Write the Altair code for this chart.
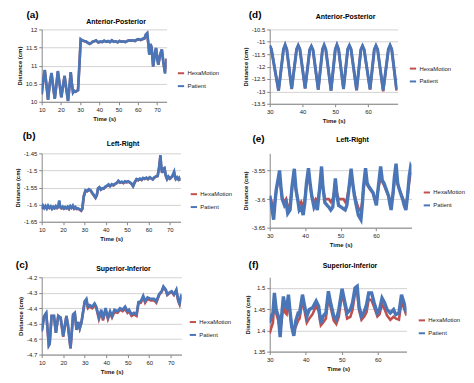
import altair as alt
import pandas as pd

RED = "#c0504d"
BLUE = "#4a76b8"
FONT = "Liberation Sans"

# ---------------- (a) Anterior-Posterior, patient 1 ----------------
a_time = [10.0, 10.8, 11.6, 12.5, 13.3, 14.2, 15.1, 16.0, 16.8, 17.6,
          18.4, 19.3, 20.2, 21.0, 21.9, 22.8, 23.7, 24.4, 25.1, 25.7,
          26.3, 27.0, 27.7, 28.3, 28.9, 29.6, 30.3, 31.0, 32.0, 33.0,
          34.0, 35.0, 35.6, 36.5, 37.5, 38.3, 39.5, 40.5, 41.5, 42.5,
          43.5, 44.5, 45.5, 46.5, 47.5, 48.5, 49.5, 50.5, 51.5, 52.5,
          53.5, 54.5, 55.5, 56.5, 57.5, 58.5, 59.5, 60.5, 61.5, 62.5,
          63.5, 64.2, 64.9, 65.5, 66.0, 66.6, 67.2, 68.0, 68.8, 69.5,
          70.1, 70.7, 71.6, 72.5, 73.3, 74.2, 75.0]
a_patient = [10.22, 10.60, 10.88, 10.45, 10.05, 10.50, 10.80, 10.40, 10.08, 10.45,
             10.85, 10.50, 10.12, 10.40, 10.72, 10.35, 10.02, 10.40, 10.82, 10.50,
             10.25, 10.30, 10.28, 10.30, 10.32, 11.00, 11.73, 11.70, 11.68, 11.67,
             11.63, 11.60, 11.62, 11.66, 11.68, 11.70, 11.64, 11.67, 11.65, 11.69,
             11.66, 11.68, 11.65, 11.70, 11.66, 11.67, 11.64, 11.68, 11.66, 11.67,
             11.65, 11.68, 11.70, 11.69, 11.70, 11.68, 11.72, 11.73, 11.71, 11.74,
             11.76, 11.86, 11.90, 11.60, 11.30, 11.60, 11.50, 10.97, 11.30, 11.49,
             11.20, 11.02, 11.30, 11.45, 11.10, 10.78, 11.20]
a_hexa = [10.20, 10.60, 10.87, 10.45, 10.06, 10.50, 10.79, 10.40, 10.09, 10.45,
          10.84, 10.50, 10.13, 10.40, 10.71, 10.35, 10.03, 10.40, 10.81, 10.50,
          10.26, 10.30, 10.28, 10.30, 10.32, 11.00, 11.72, 11.70, 11.68, 11.66,
          11.63, 11.61, 11.62, 11.66, 11.67, 11.69, 11.64, 11.66, 11.65, 11.68,
          11.66, 11.67, 11.65, 11.69, 11.66, 11.67, 11.65, 11.68, 11.66, 11.67,
          11.65, 11.68, 11.69, 11.69, 11.70, 11.68, 11.71, 11.72, 11.71, 11.73,
          11.75, 11.85, 11.88, 11.60, 11.31, 11.59, 11.50, 10.98, 11.30, 11.48,
          11.20, 11.03, 11.30, 11.44, 11.10, 10.80, 11.18]

# ---------------- (b) Left-Right, patient 1 ----------------
b_time = [10.0, 10.6, 11.2, 11.8, 12.4, 13.0, 13.6, 14.2, 14.8, 15.4,
          16.0, 16.6, 17.2, 17.8, 18.2, 18.6, 19.2, 19.8, 20.4, 21.0,
          21.6, 22.2, 22.8, 23.4, 24.0, 24.6, 25.2, 25.8, 26.4, 27.0,
          27.6, 28.5, 29.0, 29.7, 30.5, 31.3, 32.1, 32.9, 33.6, 34.4,
          35.2, 35.8, 36.4, 37.0, 37.7, 38.4, 39.0, 39.7, 40.5, 41.3,
          42.0, 42.8, 43.6, 44.4, 45.2, 45.9, 46.7, 47.5, 48.3, 49.0,
          49.8, 50.5, 51.3, 52.0, 52.8, 53.5, 54.4, 55.2, 56.0, 56.8,
          57.5, 58.2, 59.0, 59.8, 60.6, 61.4, 62.0, 62.8, 63.6, 64.3,
          65.0, 65.6, 66.0, 66.4, 67.0, 67.5, 68.1, 68.7, 69.3, 70.0,
          70.5, 71.2, 72.0, 72.4, 72.8, 73.4, 74.0, 74.4, 75.0]
b_patient = [-1.612, -1.603, -1.610, -1.604, -1.611, -1.603, -1.609, -1.605, -1.612, -1.606,
             -1.610, -1.604, -1.609, -1.605, -1.588, -1.606, -1.610, -1.606, -1.611, -1.607,
             -1.610, -1.606, -1.612, -1.604, -1.609, -1.603, -1.611, -1.607, -1.612, -1.611,
             -1.613, -1.617, -1.612, -1.575, -1.558, -1.560, -1.555, -1.558, -1.565, -1.572,
             -1.580, -1.572, -1.552, -1.549, -1.556, -1.552, -1.553, -1.548, -1.545, -1.541,
             -1.546, -1.540, -1.543, -1.539, -1.536, -1.530, -1.535, -1.533, -1.536, -1.532,
             -1.534, -1.532, -1.535, -1.538, -1.546, -1.535, -1.525, -1.528, -1.524, -1.527,
             -1.522, -1.524, -1.521, -1.525, -1.520, -1.523, -1.526, -1.520, -1.517, -1.516,
             -1.490, -1.455, -1.490, -1.507, -1.495, -1.493, -1.515, -1.525, -1.518, -1.524,
             -1.521, -1.516, -1.504, -1.518, -1.525, -1.520, -1.526, -1.522, -1.530]
b_hexa = [-1.613, -1.606, -1.610, -1.607, -1.611, -1.606, -1.610, -1.607, -1.612, -1.608,
          -1.611, -1.607, -1.610, -1.607, -1.592, -1.608, -1.611, -1.608, -1.612, -1.609,
          -1.611, -1.608, -1.613, -1.607, -1.610, -1.606, -1.612, -1.609, -1.613, -1.612,
          -1.614, -1.618, -1.613, -1.577, -1.560, -1.561, -1.557, -1.559, -1.566, -1.573,
          -1.580, -1.573, -1.554, -1.550, -1.556, -1.553, -1.554, -1.549, -1.546, -1.543,
          -1.546, -1.542, -1.544, -1.540, -1.537, -1.532, -1.536, -1.534, -1.537, -1.533,
          -1.535, -1.533, -1.536, -1.539, -1.546, -1.536, -1.527, -1.529, -1.525, -1.528,
          -1.523, -1.525, -1.522, -1.526, -1.521, -1.524, -1.526, -1.521, -1.518, -1.517,
          -1.492, -1.458, -1.491, -1.507, -1.496, -1.494, -1.515, -1.525, -1.519, -1.524,
          -1.522, -1.517, -1.506, -1.518, -1.525, -1.521, -1.526, -1.523, -1.530]

# ---------------- (c) Superior-Inferior, patient 1 ----------------
c_time = [10.0, 11.0, 11.6, 12.1, 12.8, 13.3, 13.7, 14.6, 15.7, 16.6,
          17.7, 18.8, 20.0, 21.5, 22.3, 23.4, 24.6, 25.4, 26.2, 27.0,
          27.7, 28.5, 30.0, 30.8, 31.5, 32.3, 33.5, 34.6, 35.4, 36.6,
          37.7, 38.5, 39.7, 40.8, 41.8, 42.7, 43.8, 45.3, 46.4, 47.6,
          48.8, 49.9, 50.6, 51.8, 52.9, 54.1, 55.0, 56.1, 57.2, 58.1,
          59.2, 60.7, 62.3, 63.3, 64.6, 65.8, 66.6, 67.7, 68.4, 69.2,
          70.4, 71.5, 72.6, 73.5, 74.1, 75.0]
c_patient = [-4.55, -4.46, -4.44, -4.43, -4.55, -4.64, -4.63, -4.45, -4.45, -4.56,
             -4.45, -4.46, -4.58, -4.45, -4.52, -4.66, -4.44, -4.43, -4.54, -4.49,
             -4.53, -4.49, -4.355, -4.34, -4.39, -4.38, -4.39, -4.37, -4.39, -4.46,
             -4.41, -4.47, -4.40, -4.46, -4.42, -4.45, -4.41, -4.42, -4.40, -4.41,
             -4.39, -4.42, -4.41, -4.44, -4.43, -4.44, -4.36, -4.355, -4.32, -4.355,
             -4.33, -4.34, -4.34, -4.355, -4.31, -4.29, -4.26, -4.28, -4.31, -4.30,
             -4.29, -4.31, -4.28, -4.35, -4.37, -4.31]
c_hexa = [-4.55, -4.46, -4.445, -4.435, -4.55, -4.64, -4.63, -4.45, -4.45, -4.56,
          -4.45, -4.465, -4.585, -4.45, -4.525, -4.66, -4.445, -4.435, -4.54, -4.49,
          -4.53, -4.49, -4.36, -4.35, -4.40, -4.39, -4.40, -4.38, -4.40, -4.47,
          -4.42, -4.48, -4.41, -4.47, -4.43, -4.46, -4.425, -4.43, -4.41, -4.42,
          -4.405, -4.43, -4.42, -4.45, -4.44, -4.45, -4.37, -4.365, -4.33, -4.365,
          -4.34, -4.35, -4.35, -4.365, -4.315, -4.295, -4.265, -4.285, -4.315, -4.305,
          -4.295, -4.315, -4.285, -4.355, -4.375, -4.315]

# ---------------- (d) Anterior-Posterior, patient 2 ----------------
d_time = [30.0, 30.5, 32.7, 34.2, 34.7, 35.2, 36.7, 38.2, 38.7, 39.2,
          40.8, 42.2, 42.7, 43.2, 44.8, 46.1, 46.6, 47.1, 48.7, 50.0,
          50.5, 51.0, 52.5, 53.8, 54.3, 54.8, 56.5, 57.8, 58.3, 58.8,
          60.6, 61.9, 62.4, 62.9, 64.6, 66.2, 66.7, 67.2, 68.7]
d_patient = [-11.15, -11.30, -12.97, -11.30, -11.12, -11.30, -12.90, -11.30, -11.15, -11.30,
             -12.88, -11.32, -11.18, -11.33, -12.93, -11.30, -11.13, -11.30, -12.97, -11.30,
             -11.12, -11.30, -12.90, -11.30, -11.15, -11.30, -12.95, -11.32, -11.17, -11.32,
             -12.92, -11.31, -11.16, -11.31, -12.96, -11.30, -11.14, -11.30, -12.93]
d_hexa = [-11.15, -11.30, -12.97, -11.30, -11.13, -11.30, -12.91, -11.30, -11.15, -11.30,
          -12.89, -11.32, -11.18, -11.33, -12.94, -11.30, -11.14, -11.30, -12.97, -11.30,
          -11.13, -11.30, -12.91, -11.30, -11.16, -11.30, -12.96, -11.32, -11.17, -11.32,
          -12.93, -11.31, -11.16, -11.31, -13.00, -11.30, -11.15, -11.30, -12.97]

# ---------------- (e) Left-Right, patient 2 ----------------
e_time = [30.0, 30.56, 31.11, 31.57, 31.85, 32.31, 32.78, 33.15, 33.52, 34.17,
          34.63, 35.09, 35.74, 36.3, 36.94, 37.41, 37.87, 38.33, 38.89, 39.44,
          39.91, 40.37, 40.93, 41.39, 41.85, 42.5, 42.96, 43.43, 43.89, 44.63,
          45.0, 45.56, 46.2, 46.67, 47.22, 47.78, 48.15, 48.52, 48.98, 49.44,
          50.19, 50.83, 51.3, 51.76, 52.22, 52.96, 53.43, 53.89, 54.44, 55.0,
          55.46, 55.74, 56.11, 56.48, 57.04, 57.5, 57.96, 58.52, 59.17, 59.63,
          60.09, 60.56, 61.3, 61.76, 62.22, 62.87, 63.52, 63.89, 64.26, 64.81,
          65.19, 65.65, 66.11, 66.57, 67.04, 67.5, 67.96, 68.43, 68.89, 69.35,
          69.81, 70.0]
e_patient = [-3.594, -3.614, -3.636, -3.600, -3.583, -3.567, -3.550, -3.578, -3.600, -3.611,
             -3.606, -3.625, -3.619, -3.578, -3.547, -3.583, -3.600, -3.619, -3.614, -3.628,
             -3.606, -3.572, -3.546, -3.572, -3.594, -3.614, -3.608, -3.619, -3.594, -3.543,
             -3.578, -3.606, -3.611, -3.614, -3.619, -3.614, -3.589, -3.564, -3.594, -3.611,
             -3.614, -3.617, -3.619, -3.611, -3.589, -3.547, -3.572, -3.594, -3.611, -3.628,
             -3.633, -3.636, -3.611, -3.578, -3.546, -3.572, -3.578, -3.583, -3.589, -3.600,
             -3.611, -3.583, -3.543, -3.567, -3.572, -3.583, -3.594, -3.608, -3.619, -3.589,
             -3.561, -3.538, -3.572, -3.583, -3.592, -3.600, -3.611, -3.619, -3.594, -3.561,
             -3.542, -3.544]
e_hexa = [-3.595, -3.605, -3.620, -3.600, -3.585, -3.570, -3.560, -3.580, -3.598, -3.605,
          -3.600, -3.612, -3.610, -3.580, -3.560, -3.585, -3.600, -3.610, -3.605, -3.615,
          -3.600, -3.575, -3.560, -3.575, -3.595, -3.605, -3.600, -3.605, -3.590, -3.565,
          -3.580, -3.600, -3.600, -3.600, -3.605, -3.600, -3.590, -3.570, -3.590, -3.600,
          -3.600, -3.600, -3.605, -3.600, -3.585, -3.560, -3.575, -3.590, -3.605, -3.615,
          -3.620, -3.620, -3.605, -3.580, -3.562, -3.575, -3.580, -3.585, -3.590, -3.600,
          -3.605, -3.585, -3.560, -3.570, -3.575, -3.585, -3.595, -3.600, -3.610, -3.590,
          -3.570, -3.555, -3.575, -3.583, -3.590, -3.598, -3.605, -3.610, -3.595, -3.570,
          -3.555, -3.553]

# ---------------- (f) Superior-Inferior, patient 2 ----------------
f_time = [30.0, 30.4, 30.9, 31.3, 31.8, 32.4, 32.9, 33.3, 33.8, 34.2,
          34.7, 35.2, 35.6, 36.1, 36.7, 37.2, 37.9, 38.3, 39.1, 39.7,
          40.3, 41.0, 41.9, 42.9, 43.6, 44.2, 44.8, 45.6, 46.3, 46.9,
          47.8, 48.5, 49.2, 50.1, 50.8, 51.5, 52.4, 53.0, 53.7, 54.3,
          54.8, 55.5, 56.3, 56.9, 57.5, 58.3, 59.0, 59.9, 60.5, 61.2,
          61.9, 62.6, 63.5, 64.4, 65.0, 65.9, 66.6, 67.3, 68.0]
f_patient = [1.417, 1.433, 1.441, 1.488, 1.449, 1.433, 1.384, 1.433, 1.480, 1.457,
             1.453, 1.484, 1.449, 1.409, 1.387, 1.421, 1.441, 1.441, 1.484, 1.457,
             1.433, 1.449, 1.453, 1.469, 1.457, 1.417, 1.433, 1.441, 1.492, 1.465,
             1.433, 1.425, 1.449, 1.498, 1.469, 1.441, 1.449, 1.465, 1.500, 1.504,
             1.457, 1.433, 1.445, 1.461, 1.488, 1.488, 1.465, 1.441, 1.449, 1.476,
             1.465, 1.449, 1.441, 1.449, 1.437, 1.441, 1.484, 1.465, 1.441]
f_hexa = [1.393, 1.405, 1.418, 1.472, 1.440, 1.423, 1.402, 1.420, 1.468, 1.443,
          1.438, 1.472, 1.440, 1.410, 1.398, 1.408, 1.423, 1.428, 1.472, 1.445,
          1.418, 1.428, 1.438, 1.458, 1.445, 1.412, 1.418, 1.428, 1.478, 1.455,
          1.423, 1.415, 1.432, 1.488, 1.460, 1.428, 1.432, 1.448, 1.488, 1.493,
          1.448, 1.425, 1.433, 1.443, 1.474, 1.470, 1.455, 1.433, 1.438, 1.462,
          1.450, 1.435, 1.425, 1.432, 1.428, 1.425, 1.468, 1.452, 1.435]

SERIES = ["HexaMotion", "Patient"]


def panel(times, hexa, patient, letter, title, xdom, xticks, ydom, yticks,
          w, h, leg_xy, let_xy, title_y, blue_w=2.7):
    rows = [{"t": t, "d": v, "s": SERIES[0]} for t, v in zip(times, hexa)]
    rows += [{"t": t, "d": v, "s": SERIES[1]} for t, v in zip(times, patient)]
    df = pd.DataFrame(rows)
    color = alt.Color(
        "s:N",
        scale=alt.Scale(domain=SERIES, range=[RED, BLUE]),
        legend=alt.Legend(title=None, orient="none", legendX=leg_xy[0], legendY=leg_xy[1],
                          symbolType="stroke", symbolSize=40, symbolStrokeWidth=2,
                          labelFontSize=6, labelFont=FONT, rowPadding=4, labelOffset=2,
                          padding=0, labelColor="#222"),
    )
    x = alt.X("t:Q", scale=alt.Scale(domain=xdom, nice=False, zero=False),
              axis=alt.Axis(values=xticks, title="Time (s)", grid=False, labelFlush=False,
                            labelExpr="'' + datum.value"))
    y = alt.Y("d:Q", scale=alt.Scale(domain=ydom, nice=False, zero=False),
              axis=alt.Axis(values=yticks, title="Distance (cm)", labelFlush=False,
                            labelExpr="'' + datum.value"))
    base = alt.Chart(df)
    l1 = base.transform_filter(alt.datum.s == SERIES[0]).mark_line(
        strokeWidth=2.6, clip=True).encode(x=x, y=y, color=color)
    l2 = base.transform_filter(alt.datum.s == SERIES[1]).mark_line(
        strokeWidth=blue_w, clip=True).encode(x=x, y=y, color=color)
    lab = alt.Chart(pd.DataFrame({"lbl": [letter]})).mark_text(
        fontSize=10, fontWeight="bold", font=FONT, align="center", baseline="middle",
        color="#000").encode(x=alt.value(let_xy[0]), y=alt.value(let_xy[1]), text="lbl:N")
    ttl = alt.Chart(pd.DataFrame({"ttl": [title]})).mark_text(
        fontSize=7, fontWeight="bold", font=FONT, align="center", baseline="middle",
        color="#000").encode(x=alt.value(w / 2 + 12), y=alt.value(title_y), text="ttl:N")
    return alt.layer(l1, l2, lab, ttl).properties(width=w, height=h)


pa = panel(a_time, a_hexa, a_patient, "(a)", "Anterior-Posterior", [10, 75],
           [10, 20, 30, 40, 50, 60, 70], [10, 12], [10, 10.5, 11, 11.5, 12],
           126, 73, (136, 39.7), (-9.3, -14.5), -7.5)
pd_ = panel(d_time, d_hexa, d_patient, "(d)", "Anterior-Posterior", [30, 69],
            [30, 40, 50, 60], [-13.5, -10.5], [-13.5, -13, -12.5, -12, -11.5, -11, -10.5],
            129, 75, (140, 35), (-14.7, -14.5), -12.5, blue_w=3)
pb = panel(b_time, b_hexa, b_patient, "(b)", "Left-Right", [10, 75],
           [10, 20, 30, 40, 50, 60, 70], [-1.65, -1.45], [-1.65, -1.6, -1.55, -1.5, -1.45],
           140, 69, (149, 36.7), (-12.7, -17.5), -9.8)
pe = panel(e_time, e_hexa, e_patient, "(e)", "Left-Right", [30, 70],
           [30, 40, 50, 60], [-3.65, -3.52], [-3.65, -3.6, -3.55],
           143, 75, (154, 35), (-11.3, -14.2), -13.2, blue_w=3.4)
pc = panel(c_time, c_hexa, c_patient, "(c)", "Superior-Inferior", [10, 75],
           [10, 20, 30, 40, 50, 60, 70], [-4.7, -4.2], [-4.7, -4.6, -4.5, -4.4, -4.3, -4.2],
           141, 78, (148, 40.7), (-20, -12.5), -8.2)
pf = panel(f_time, f_hexa, f_patient, "(f)", "Superior-Inferior", [30, 68],
           [30, 40, 50, 60], [1.35, 1.525], [1.35, 1.4, 1.45, 1.5],
           138, 75, (149, 39), (-16.3, -12.5), -11.5, blue_w=3.4)

chart = alt.concat(
    pa, pd_, pb, pe, pc, pf, columns=2, spacing={"row": 50, "column": 89}, bounds="flush"
).resolve_scale(
    color="independent", x="independent", y="independent"
).resolve_legend(
    color="independent"
).properties(
    padding={"left": 6, "top": 0, "right": 0, "bottom": 0},
    background="white",
).configure_view(
    stroke=None
).configure_axis(
    labelFont=FONT, titleFont=FONT, labelFontSize=6, titleFontSize=6,
    titleFontWeight="bold", domainColor="#868686", tickColor="#868686", tickSize=3,
    gridColor="#c8c8c8", gridWidth=0.8, labelColor="#222", titleColor="#111",
    labelPadding=2, titlePadding=3,
)

chart.save("out.html", embed_options={"renderer": "svg", "actions": False})
